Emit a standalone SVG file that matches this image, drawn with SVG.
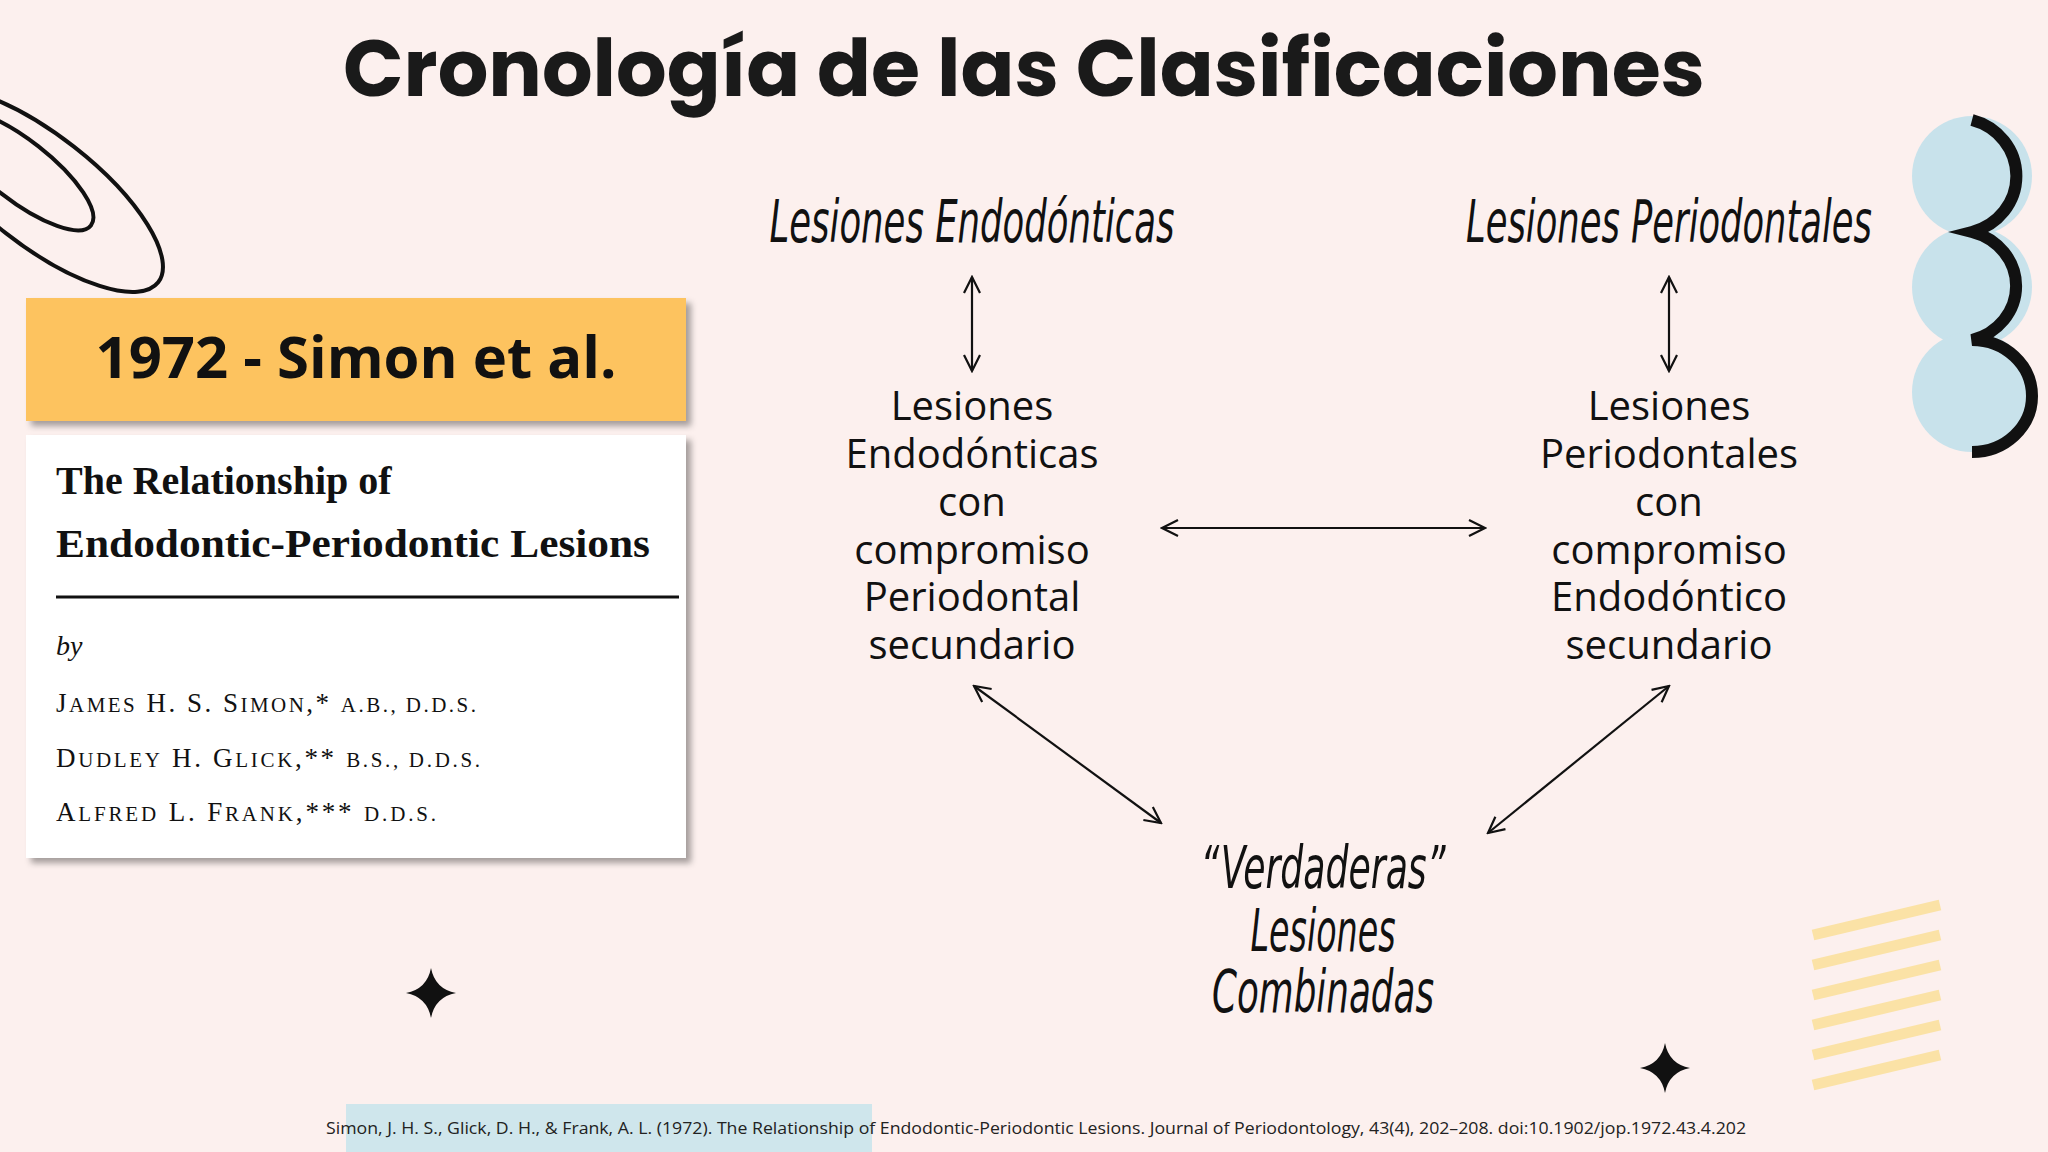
<svg xmlns="http://www.w3.org/2000/svg" width="2048" height="1152" viewBox="0 0 2048 1152">
<defs>
<marker id="ah" viewBox="0 0 20 20" refX="18" refY="10" markerWidth="20" markerHeight="20" markerUnits="userSpaceOnUse" orient="auto-start-reverse"><path d="M2 2 L18 10 L2 18" fill="none" stroke="#111" stroke-width="2.2"/></marker>
<filter id="sh" x="-5%" y="-5%" width="112%" height="115%"><feDropShadow dx="5" dy="5" stdDeviation="3" flood-color="#000" flood-opacity="0.35"/></filter>
</defs>
<style>
.hand{font-family:"DejaVu Sans","Liberation Sans",sans-serif;font-style:italic;font-stretch:condensed;font-size:58px;fill:#111;text-anchor:middle}
.mid{font-family:"Open Sans","Liberation Sans",sans-serif;font-size:40px;fill:#111;text-anchor:middle}
.ser{font-family:"Liberation Serif",serif;fill:#111}
.con{stroke:#111;stroke-width:2.2;fill:none;marker-start:url(#ah);marker-end:url(#ah)}
</style>
<rect width="2048" height="1152" fill="#fcf0ee"/>
<g id="deco" fill="none">
<ellipse cx="40" cy="190" rx="150" ry="55" transform="rotate(38 40 190)" stroke="#111" stroke-width="4"/>
<ellipse cx="20" cy="170" rx="90" ry="30" transform="rotate(38 20 170)" stroke="#111" stroke-width="4"/>
<circle cx="1972" cy="176" r="60" fill="#c8e2eb"/>
<circle cx="1972" cy="287" r="60" fill="#c8e2eb"/>
<circle cx="1972" cy="392" r="60" fill="#c8e2eb"/>
<path d="M1972 120 A60 58 0 0 1 1972 232 A60 56 0 0 1 1972 340 A60 56 0 0 1 1972 452" stroke="#111" stroke-width="12"/>
<g stroke="#fbe2a6" stroke-width="11">
<line x1="1813" y1="935" x2="1940" y2="905"/><line x1="1813" y1="965" x2="1940" y2="935"/><line x1="1813" y1="995" x2="1940" y2="965"/><line x1="1813" y1="1025" x2="1940" y2="995"/><line x1="1813" y1="1055" x2="1940" y2="1025"/><line x1="1813" y1="1085" x2="1940" y2="1055"/>
</g>
<path d="M431 968 Q435 989 456 993 Q435 997 431 1018 Q427 997 406 993 Q427 989 431 968Z" fill="#111"/>
<path d="M1665 1043 Q1669 1064 1690 1068 Q1669 1072 1665 1093 Q1661 1072 1640 1068 Q1661 1064 1665 1043Z" fill="#111"/>
</g>
<text x="1024" y="96" text-anchor="middle" font-family="Poppins,'Open Sans','Liberation Sans',sans-serif" font-weight="bold" font-size="80" textLength="1362" lengthAdjust="spacingAndGlyphs" fill="#1a1a1a">Cronología de las Clasificaciones</text>
<g id="year">
<rect x="26" y="298" width="660" height="123" fill="#fdc35f" filter="url(#sh)"/>
<text x="356" y="378" text-anchor="middle" font-family="'Open Sans','Liberation Sans',sans-serif" font-weight="bold" font-size="58" fill="#111">1972 - Simon et al.</text>
</g>
<g id="paper">
<rect x="26" y="435" width="660" height="423" fill="#fff" filter="url(#sh)"/>
<text class="ser" x="56" y="494" font-size="40" font-weight="bold">The Relationship of</text>
<text class="ser" x="56" y="557" font-size="40" font-weight="bold" textLength="594" lengthAdjust="spacingAndGlyphs">Endodontic-Periodontic Lesions</text>
<line x1="56" y1="597" x2="679" y2="597" stroke="#111" stroke-width="3"/>
<text class="ser" x="56" y="655" font-size="28" font-style="italic">by</text>
<text class="ser" x="56" y="712" font-size="27" textLength="420" lengthAdjust="spacing">J<tspan font-size="21">AMES</tspan> H. S. S<tspan font-size="21">IMON</tspan>,* <tspan font-size="21">A.B., D.D.S.</tspan></text>
<text class="ser" x="56" y="767" font-size="27" textLength="424" lengthAdjust="spacing">D<tspan font-size="21">UDLEY</tspan> H. G<tspan font-size="21">LICK</tspan>,** <tspan font-size="21">B.S., D.D.S.</tspan></text>
<text class="ser" x="56" y="821" font-size="27" textLength="380" lengthAdjust="spacing">A<tspan font-size="21">LFRED</tspan> L. F<tspan font-size="21">RANK</tspan>,*** <tspan font-size="21">D.D.S.</tspan></text>
</g>
<g id="endo"><text class="hand" x="972" y="242" textLength="405" lengthAdjust="spacingAndGlyphs">Lesiones Endodónticas</text></g>
<g id="perio"><text class="hand" x="1669" y="242" textLength="406" lengthAdjust="spacingAndGlyphs">Lesiones Periodontales</text></g>
<g id="endoperio"><text class="mid"><tspan x="972" y="420">Lesiones</tspan><tspan x="972" y="468">Endodónticas</tspan><tspan x="972" y="516">con</tspan><tspan x="972" y="564">compromiso</tspan><tspan x="972" y="611">Periodontal</tspan><tspan x="972" y="659">secundario</tspan></text></g>
<g id="perioendo"><text class="mid"><tspan x="1669" y="420">Lesiones</tspan><tspan x="1669" y="468">Periodontales</tspan><tspan x="1669" y="516">con</tspan><tspan x="1669" y="564">compromiso</tspan><tspan x="1669" y="611">Endodóntico</tspan><tspan x="1669" y="659">secundario</tspan></text></g>
<g id="combinadas">
<text class="hand" x="1323" y="888" textLength="245" lengthAdjust="spacingAndGlyphs">“Verdaderas”</text>
<text class="hand" x="1323" y="951" textLength="145" lengthAdjust="spacingAndGlyphs">Lesiones</text>
<text class="hand" x="1323" y="1012" textLength="222" lengthAdjust="spacingAndGlyphs">Combinadas</text>
</g>
<g id="connectors">
<line class="con" x1="972" y1="277" x2="972" y2="371"/>
<line class="con" x1="1669" y1="277" x2="1669" y2="371"/>
<line class="con" x1="1162" y1="528" x2="1485" y2="528"/>
<line class="con" x1="974" y1="686" x2="1161" y2="823"/>
<line class="con" x1="1669" y1="686" x2="1488" y2="833"/>
</g>
<rect x="346" y="1104" width="526" height="48" fill="#cfe6ec"/>
<text x="326" y="1134" font-family="'Open Sans','Liberation Sans',sans-serif" font-size="17" fill="#222" textLength="1420" lengthAdjust="spacingAndGlyphs">Simon, J. H. S., Glick, D. H., &amp; Frank, A. L. (1972). The Relationship of Endodontic-Periodontic Lesions. Journal of Periodontology, 43(4), 202–208. doi:10.1902/jop.1972.43.4.202</text>
</svg>
